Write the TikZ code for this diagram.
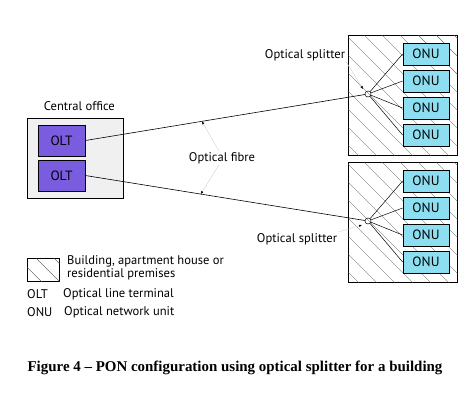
\documentclass[tikz,border=0pt]{standalone}
\usepackage{fontspec}
\setsansfont{PT Sans}
\newfontfamily\capfont{Liberation Serif}
\usetikzlibrary{arrows.meta}
\usetikzlibrary{positioning}
\tikzset{>=latex}
\definecolor{oltfill}{RGB}{122,92,222}
\definecolor{onufill}{RGB}{140,222,240}
\tikzset{
    unitbox/.style={draw, line width=0.8pt, font=\sffamily\fontsize{13.5}{14}\selectfont, inner sep=0pt},
    olt/.style={unitbox, fill=oltfill, minimum width=47bp, minimum height=31bp},
    onu/.style={unitbox, fill=onufill, minimum width=46bp, minimum height=22bp},
    lbl/.style={font=\sffamily\fontsize{12.6}{11.5}\selectfont, inner sep=1bp},
    house/.style={draw, line width=0.6pt, inner sep=0pt, anchor=north west},
    hatch/.style={black!70, line width=0.35pt},
    leader/.style={gray!35, line width=0.4pt, -{Latex[black, length=3bp, width=2.4bp]}},
    fibre/.style={line width=0.6pt},
}

\begin{document}
\begin{tikzpicture}[x=1bp, y=-1bp]
            \useasboundingbox (0, 0) rectangle (474, 412);

            % central office with the two OLTs
            \node[draw, line width=0.8pt, fill=gray!12, minimum width=96bp, minimum height=80bp, anchor=north west] (co) at (27, 118) {};
            \node[lbl, above=6bp of co, xshift=4bp] (colbl) {Central office};
            \node[olt] (olt1) at (61.5, 140.5) {OLT};
            \node[olt] (olt2) at (61.5, 175.5) {OLT};

            % the two buildings, hatched
            \foreach \b/\y in {1/35, 2/162} {
                \node[house, minimum width=109bp, minimum height=120bp] (bld\b) at (348, \y) {};
                \begin{scope}
                    \clip (bld\b.north west) rectangle (bld\b.south east);
                    \foreach \x in {220, 238, ..., 460} {
                        \draw[hatch] (\x, \y) -- ++ (130, 130);
                    }
                \end{scope}
                \node[draw, circle, line width=0.5pt, minimum size=6bp, inner sep=0pt] (spl\b) at (368, \y + 59) {};
                \foreach \k in {1, 2, 3, 4} {
                    \node[onu] (onu\b-\k) at (426, \y + 19 + 27*\k - 27) {ONU};
                    \draw[line width=0.5pt] (spl\b) -- (onu\b-\k.west);
                }
            }

            % fibres
            \draw[fibre] (olt1.east) -- coordinate[pos=0.417] (fa1) (spl1);
            \draw[fibre] (olt2.east) -- coordinate[pos=0.413] (fa2) (spl2);

            \node[lbl] (fibrelbl) at (222, 158) {Optical fibre};
            \draw[leader] ([xshift=-3bp]fibrelbl.north) -- (fa1);
            \draw[leader] ([xshift=-3bp]fibrelbl.south) -- (fa2);

            \node[lbl] (spllbl1) at (305, 55) {Optical splitter};
            \coordinate (sptip1) at (363, 89);
            \draw[leader] (spllbl1.south east) -- (sptip1);

            \node[lbl] (spllbl2) at (297, 239) {Optical splitter};
            \coordinate (sptip2) at (362, 225);
            \draw[leader] (spllbl2.north east) -- (sptip2);

            % legend
            \node[house, minimum width=32bp, minimum height=23bp] (legbld) at (27, 258) {};
            \begin{scope}
                \clip (legbld.north west) rectangle (legbld.south east);
                \foreach \x in {0, 18, ..., 60} {
                    \draw[hatch] (\x, 258) -- ++ (30, 30);
                }
            \end{scope}
            \node[lbl, align=left, anchor=west] (legbldtxt) at (66, 268) {Building, apartment house or\\residential premises};
            \node[lbl, anchor=west] (legolt) at (26, 294) {OLT};
            \node[lbl, anchor=west] (legolttxt) at (62, 294) {Optical line terminal};
            \node[lbl, anchor=west] (legonu) at (26, 312) {ONU};
            \node[lbl, anchor=west] (legonutxt) at (63, 312) {Optical network unit};

            \node[font=\capfont\bfseries\fontsize{15}{17}\selectfont] (caption) at (235, 368) {Figure 4 – PON configuration using optical splitter for a building};
        \end{tikzpicture}
\end{document}
